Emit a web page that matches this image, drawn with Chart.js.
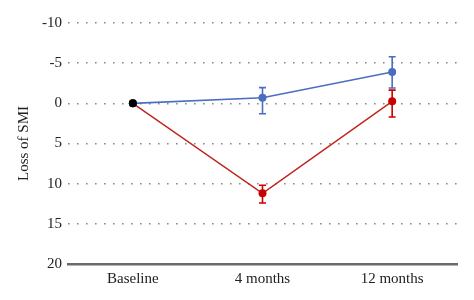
<!DOCTYPE html>
<html><head><meta charset="utf-8">
<script src="https://cdn.jsdelivr.net/npm/chart.js@4"></script>
<style>html,body{margin:0;padding:0;background:#fff}#wrap{width:474px;height:300px}</style>
</head><body><div id="wrap"><canvas id="c" width="474" height="300"></canvas></div>
<script>
const categories = ['Baseline', '4 months', '12 months'];
const blueMean = [0, -0.7, -3.9];
const blueLow = [null, -1.95, -5.8];
const blueHigh = [null, 1.3, -1.9];
const redMean = [0, 11.2, -0.25];
const redLow = [null, 10.2, -1.65];
const redHigh = [null, 12.4, 1.7];
const yTicks = [-10, -5, 0, 5, 10, 15, 20];

const BLUE = '#4a6fc0', RED = '#c0241c', REDPT = '#c80000';

const errorBars = {
  id: 'errorBars',
  afterDatasetsDraw(chart) {
    const ctx = chart.ctx, y = chart.scales.y;
    const sets = [[blueLow, blueHigh, BLUE, 0], [redLow, redHigh, REDPT, 1]];
    sets.forEach(([lo, hi, col, di]) => {
      const meta = chart.getDatasetMeta(di);
      meta.data.forEach((pt, i) => {
        if (lo[i] == null) return;
        const x = pt.x, y1 = y.getPixelForValue(lo[i]), y2 = y.getPixelForValue(hi[i]);
        ctx.save();
        ctx.strokeStyle = col; ctx.lineWidth = 1.6;
        ctx.beginPath();
        ctx.moveTo(x, y1); ctx.lineTo(x, y2);
        ctx.moveTo(x - 3.5, y1); ctx.lineTo(x + 3.5, y1);
        ctx.moveTo(x - 3.5, y2); ctx.lineTo(x + 3.5, y2);
        ctx.stroke();
        ctx.restore();
      });
    });
  }
};

const serif = "'Liberation Serif', 'DejaVu Serif', serif";
new Chart(document.getElementById('c'), {
  type: 'line',
  data: {
    labels: categories,
    datasets: [
      { data: blueMean, borderColor: BLUE, borderWidth: 1.6, pointRadius: 4,
        pointBackgroundColor: ['#000', BLUE, BLUE], pointBorderColor: ['#000', BLUE, BLUE], pointBorderWidth: 0, tension: 0 },
      { data: redMean, borderColor: RED, borderWidth: 1.4, pointRadius: 4,
        pointBackgroundColor: ['#000', REDPT, REDPT], pointBorderColor: ['#000', REDPT, REDPT], pointBorderWidth: 0, tension: 0 }
    ]
  },
  options: {
    responsive: false, animation: false, devicePixelRatio: 1,
    layout: { padding: { top: 23, right: 17, left: 11, bottom: 14 } },
    plugins: { legend: { display: false }, tooltip: { enabled: false } },
    scales: {
      x: {
        offset: true,
        grid: { display: false },
        border: { display: true, color: '#6a6a6a', width: 2.5 },
        ticks: { color: '#222', font: { family: serif, size: 15 }, padding: -2 }
      },
      y: {
        reverse: true, min: -10, max: 20,
        afterBuildTicks(axis) { axis.ticks = yTicks.map(v => ({ value: v })); },
        afterFit(axis) { axis.width = 57; },
        grid: { drawTicks: false, lineWidth: 1.6,
          color: c => (c.tick && c.tick.value === 20) ? 'rgba(0,0,0,0)' : '#8a8a8a' },
        border: { display: false, dash: [1.6, 7.4] },
        ticks: { color: '#222', font: { family: serif, size: 15 }, padding: 6 },
        title: { display: true, text: 'Loss of SMI', color: '#222', font: { family: serif, size: 15 }, padding: { bottom: 8 } }
      }
    }
  },
  plugins: [errorBars]
});
</script></body></html>
